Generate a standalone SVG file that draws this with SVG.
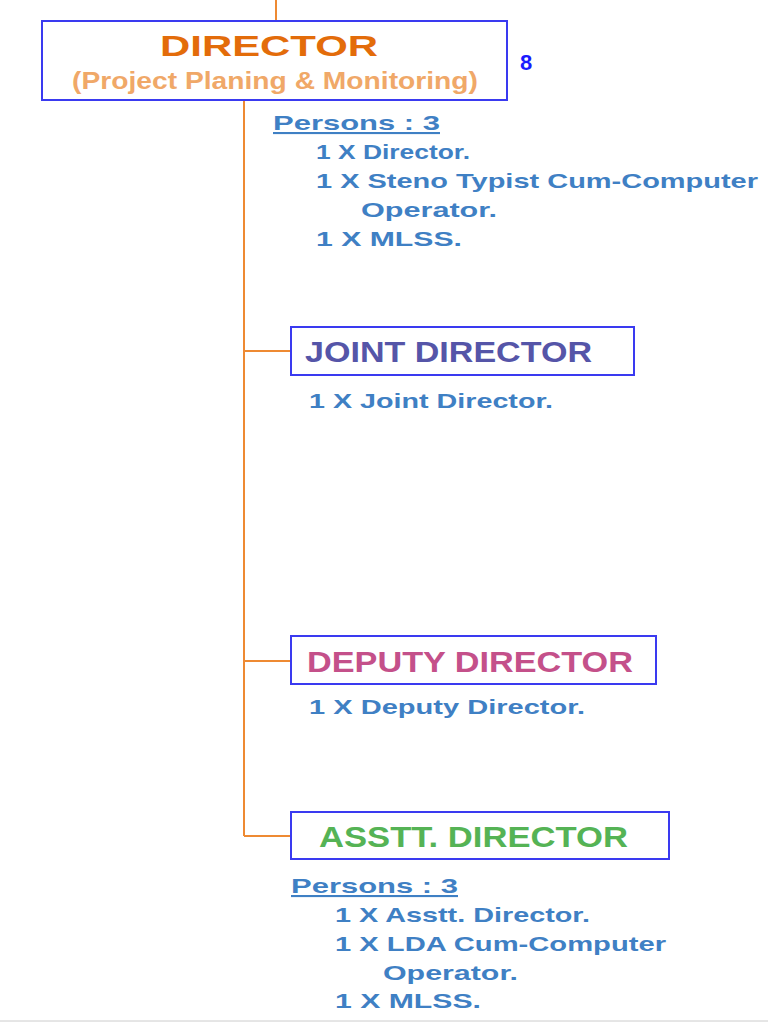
<svg xmlns="http://www.w3.org/2000/svg" width="768" height="1024" viewBox="0 0 768 1024">
<style>
.box{fill:#fff;stroke:#3a3af0;stroke-width:2}
.c{stroke:#ee8a33;stroke-width:2;fill:none}
.t{font-family:"Liberation Sans",Arial,sans-serif;font-weight:bold}
.d{font-family:"Liberation Sans",Arial,sans-serif;font-weight:bold;font-size:21px;fill:#3f80c4}
.h{font-size:29px}
</style>
<rect width="768" height="1024" fill="#fff"/>
<g id="connectors">
<line class="c" x1="276" y1="0" x2="276" y2="20"/>
<line class="c" x1="244" y1="100" x2="244" y2="836"/>
<line class="c" x1="244" y1="351" x2="291" y2="351"/>
<line class="c" x1="244" y1="661" x2="291" y2="661"/>
<line class="c" x1="244" y1="836" x2="291" y2="836"/>
</g>
<g id="director">
<rect class="box" x="42" y="21" width="465" height="79"/>
<text class="t h" x="160" y="56" textLength="218" lengthAdjust="spacingAndGlyphs" fill="#e36c0a">DIRECTOR</text>
<text class="t" x="72" y="89" font-size="23" textLength="406" lengthAdjust="spacingAndGlyphs" fill="#f0a868">(Project Planing &amp; Monitoring)</text>
<text class="t" x="520" y="70" font-size="22" fill="#1a1aff">8</text>
<text class="d" x="273" y="130" textLength="167" lengthAdjust="spacingAndGlyphs" text-decoration="underline">Persons : 3</text>
<text class="d" x="316" y="159" textLength="154" lengthAdjust="spacingAndGlyphs">1 X Director.</text>
<text class="d" x="316" y="188" textLength="442" lengthAdjust="spacingAndGlyphs">1 X Steno Typist Cum-Computer</text>
<text class="d" x="361" y="217" textLength="136" lengthAdjust="spacingAndGlyphs">Operator.</text>
<text class="d" x="316" y="246" textLength="146" lengthAdjust="spacingAndGlyphs">1 X MLSS.</text>
</g>
<g id="joint">
<rect class="box" x="291" y="327" width="343" height="48"/>
<text class="t h" x="305" y="362" textLength="287" lengthAdjust="spacingAndGlyphs" fill="#5555a8">JOINT DIRECTOR</text>
<text class="d" x="309" y="408" textLength="244" lengthAdjust="spacingAndGlyphs">1 X Joint Director.</text>
</g>
<g id="deputy">
<rect class="box" x="291" y="636" width="365" height="48"/>
<text class="t h" x="307" y="672" textLength="326" lengthAdjust="spacingAndGlyphs" fill="#c4508a">DEPUTY DIRECTOR</text>
<text class="d" x="309" y="714" textLength="276" lengthAdjust="spacingAndGlyphs">1 X Deputy Director.</text>
</g>
<g id="asstt">
<rect class="box" x="291" y="812" width="378" height="47"/>
<text class="t h" x="319" y="847" textLength="309" lengthAdjust="spacingAndGlyphs" fill="#55b355">ASSTT. DIRECTOR</text>
<text class="d" x="291" y="893" textLength="167" lengthAdjust="spacingAndGlyphs" text-decoration="underline">Persons : 3</text>
<text class="d" x="335" y="922" textLength="255" lengthAdjust="spacingAndGlyphs">1 X Asstt. Director.</text>
<text class="d" x="335" y="951" textLength="331" lengthAdjust="spacingAndGlyphs">1 X LDA Cum-Computer</text>
<text class="d" x="383" y="980" textLength="135" lengthAdjust="spacingAndGlyphs">Operator.</text>
<text class="d" x="335" y="1008" textLength="146" lengthAdjust="spacingAndGlyphs">1 X MLSS.</text>
</g>
<line x1="0" y1="1021" x2="768" y2="1021" stroke="#cccccc" stroke-width="1"/>
</svg>
